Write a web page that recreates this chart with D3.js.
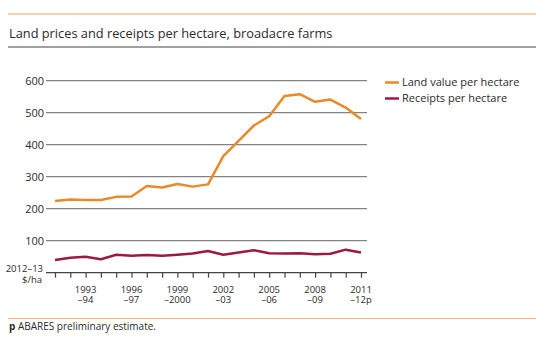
<!DOCTYPE html>
<html>
<head>
<meta charset="utf-8">
<script src="https://cdn.jsdelivr.net/npm/d3@7"></script>
<style>
  body { margin: 0; background: #fff; }
  svg { display: block; font-family: "Open Sans", sans-serif; }
</style>
</head>
<body>
<div id="chart"></div>
<script>
// financial years 1991-92 .. 2011-12
var years = ["1991-92","1992-93","1993-94","1994-95","1995-96","1996-97","1997-98",
  "1998-99","1999-2000","2000-01","2001-02","2002-03","2003-04","2004-05","2005-06",
  "2006-07","2007-08","2008-09","2009-10","2010-11","2011-12"];
var landValue = [224, 229, 227, 227, 237, 238, 271, 266, 277, 269, 276, 364, 412, 460, 489, 552, 558, 534, 541, 516, 480];
var receipts = [40, 47, 50, 42, 56, 53, 55, 53, 56, 60, 68, 56, 63, 70, 61, 60, 61, 58, 59, 72, 63];
var yTicks = [100, 200, 300, 400, 500, 600];
// label every third year, two lines each
var labelYears = ["1993-94", "1996-97", "1999-2000", "2002-03", "2005-06", "2008-09", "2011-12"];
var labelTop = ["1993", "1996", "1999", "2002", "2005", "2008", "2011"];
var labelBottom = ["\u201394", "\u201397", "\u20132000", "\u201303", "\u201306", "\u201309", "\u201312p"];
var series = [
  {name: "Land value per hectare", values: landValue, color: "#e8892a"},
  {name: "Receipts per hectare", values: receipts, color: "#9b1b3f"}
];

var W = 550, H = 337;
var svg = d3.select("#chart").append("svg").attr("width", W).attr("height", H);

var x = d3.scalePoint().domain(years).range([55, 361]);
var y = d3.scaleLinear().domain([0, 600]).range([272.7, 80.7]);
var gridLeft = 46, gridRight = 367;
var textCol = "#2b2b2b";

// header rules and title
svg.append("line").attr("x1", 8).attr("x2", 536).attr("y1", 14).attr("y2", 14)
  .attr("stroke", "#f0a35a").attr("stroke-width", 1.2);
svg.append("text").attr("x", 9).attr("y", 37.5)
  .attr("font-size", 12.8).attr("fill", textCol)
  .text("Land prices and receipts per hectare, broadacre farms");
svg.append("line").attr("x1", 8).attr("x2", 536).attr("y1", 47).attr("y2", 47)
  .attr("stroke", "#808080").attr("stroke-width", 1.5);

// gridlines
svg.append("g").selectAll("line").data(yTicks).enter().append("line")
  .attr("x1", gridLeft).attr("x2", gridRight)
  .attr("y1", function(d) { return y(d); }).attr("y2", function(d) { return y(d); })
  .attr("stroke", "#666").attr("stroke-width", 1);

svg.append("g").selectAll("text").data(yTicks).enter().append("text")
  .attr("x", 44).attr("y", function(d) { return y(d); }).attr("dy", "0.35em")
  .attr("text-anchor", "end").attr("font-size", 11).attr("fill", textCol)
  .text(function(d) { return d; });

// x axis
var xAxis = d3.axisBottom(x).tickSize(5).tickFormat("");
var gx = svg.append("g").attr("transform", "translate(0," + y(0) + ")").call(xAxis);
gx.select(".domain").remove();
gx.selectAll(".tick line").attr("stroke", "#444").attr("stroke-width", 1.2);
gx.append("line").attr("x1", gridLeft).attr("x2", gridRight)
  .attr("stroke", "#444").attr("stroke-width", 1.2);

var labs = svg.append("g").attr("font-size", 9.5).attr("fill", textCol).attr("text-anchor", "middle");
labs.selectAll("text.top").data(labelYears).enter().append("text").attr("class", "top")
  .attr("x", function(d) { return x(d); }).attr("y", 292.5)
  .text(function(d, i) { return labelTop[i]; });
labs.selectAll("text.bot").data(labelYears).enter().append("text").attr("class", "bot")
  .attr("x", function(d) { return x(d); }).attr("y", 302.5)
  .text(function(d, i) { return labelBottom[i]; });

// unit label
svg.append("text").attr("x", 43).attr("y", 272).attr("text-anchor", "end")
  .attr("font-size", 9.5).attr("fill", textCol).text("2012\u201313");
svg.append("text").attr("x", 42).attr("y", 283).attr("text-anchor", "end")
  .attr("font-size", 9.5).attr("fill", textCol).text("$/ha");

// lines
var line = d3.line()
  .x(function(d, i) { return x(years[i]); })
  .y(function(d) { return y(d); });
svg.append("g").selectAll("path").data(series).enter().append("path")
  .attr("d", function(s) { return line(s.values); })
  .attr("fill", "none").attr("stroke", function(s) { return s.color; })
  .attr("stroke-width", 2.5).attr("stroke-linejoin", "round");

// legend
var leg = svg.append("g").selectAll("g").data(series).enter().append("g")
  .attr("transform", function(s, i) { return "translate(385," + (82.5 + i * 16) + ")"; });
leg.append("line").attr("x1", 0).attr("x2", 14)
  .attr("stroke", function(s) { return s.color; }).attr("stroke-width", 2.5);
leg.append("text").attr("x", 17).attr("dy", "0.35em")
  .attr("font-size", 11).attr("fill", textCol).text(function(s) { return s.name; });

// footer
svg.append("line").attr("x1", 8).attr("x2", 536).attr("y1", 318.5).attr("y2", 318.5)
  .attr("stroke", "#f3b87a").attr("stroke-width", 1.2);
var foot = svg.append("text").attr("x", 9).attr("y", 329.5)
  .attr("font-size", 10).attr("fill", textCol);
foot.append("tspan").attr("font-weight", "bold").text("p");
foot.append("tspan").text(" ABARES preliminary estimate.");
</script>
</body>
</html>
